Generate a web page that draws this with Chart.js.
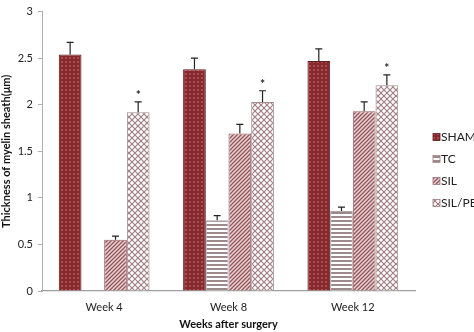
<!DOCTYPE html>
<html>
<head>
<meta charset="utf-8">
<script src="https://cdn.jsdelivr.net/npm/chart.js@4/dist/chart.umd.min.js"></script>
<style>
  html, body { margin: 0; padding: 0; background: #fff; }
  #wrap { width: 474px; height: 332px; position: relative; }
</style>
</head>
<body>
<div id="wrap"><canvas id="myChart"></canvas></div>
<script>
const weeks = ['Week 4', 'Week 8', 'Week 12'];
const yTicks = [0, 0.5, 1, 1.5, 2, 2.5, 3];

const sham = [2.54, 2.38, 2.47];
const tc = [null, 0.76, 0.86];
const sil = [0.55, 1.69, 1.93];
const silPeg = [1.92, 2.03, 2.21];

// upper end of each error bar
const shamErr = [2.67, 2.50, 2.60];
const tcErr = [null, 0.81, 0.90];
const silErr = [0.59, 1.79, 2.03];
const silPegErr = [2.03, 2.15, 2.32];

const legendNames = ['SHAM', 'TC', 'SIL', 'SIL/PEG'];

// small tiles used as bar fills
function makeTile(w, h, draw) {
  const c = document.createElement('canvas');
  c.width = w; c.height = h;
  draw(c.getContext('2d'), w, h);
  return c.getContext('2d').createPattern(c, 'repeat');
}

const shamFill = makeTile(4, 4, (g, w, h) => {
  g.fillStyle = '#862a2e'; g.fillRect(0, 0, w, h);
  g.fillStyle = '#a84e52'; g.fillRect(1, 1, 2, 2);
});
const tcFill = makeTile(4, 4, (g, w, h) => {
  g.fillStyle = '#ffffff'; g.fillRect(0, 0, w, h);
  g.fillStyle = '#9a8a8c'; g.fillRect(0, 0, w, 2);
});
const silFill = makeTile(4, 4, (g, w, h) => {
  g.fillStyle = '#e8d4d4'; g.fillRect(0, 0, w, h);
  g.strokeStyle = '#95545a'; g.lineWidth = 1.3;
  g.beginPath();
  g.moveTo(-1, 5); g.lineTo(5, -1);
  g.moveTo(-1, 1); g.lineTo(1, -1);
  g.moveTo(3, 5); g.lineTo(5, 3);
  g.stroke();
});
const silPegFill = makeTile(6, 6, (g, w, h) => {
  g.fillStyle = '#ffffff'; g.fillRect(0, 0, w, h);
  g.strokeStyle = '#a07e84'; g.lineWidth = 1.2;
  g.beginPath();
  g.moveTo(0, 0); g.lineTo(6, 6);
  g.moveTo(6, 0); g.lineTo(0, 6);
  g.stroke();
});

const fills = [shamFill, tcFill, silFill, silPegFill];
const errs = [shamErr, tcErr, silErr, silPegErr];

const errorBars = {
  id: 'errorBars',
  afterDatasetsDraw(chart) {
    const ctx = chart.ctx;
    const yScale = chart.scales.y;
    ctx.save();
    ctx.strokeStyle = '#222';
    ctx.lineWidth = 1.2;
    chart.data.datasets.forEach((ds, i) => {
      const meta = chart.getDatasetMeta(i);
      meta.data.forEach((bar, j) => {
        if (ds.data[j] == null) return;
        const top = yScale.getPixelForValue(errs[i][j]);
        ctx.beginPath();
        ctx.moveTo(bar.x, bar.y);
        ctx.lineTo(bar.x, top);
        ctx.moveTo(bar.x - 3.5, top);
        ctx.lineTo(bar.x + 3.5, top);
        ctx.stroke();
        if (i === 3) {
          ctx.fillStyle = '#222';
          ctx.font = 'bold 12px Lato';
          ctx.textAlign = 'center';
          ctx.textBaseline = 'middle';
          ctx.fillText('*', bar.x, top - 7);
        }
      });
    });
    ctx.restore();
  }
};

const sideLegend = {
  id: 'sideLegend',
  afterDraw(chart) {
    const ctx = chart.ctx;
    ctx.save();
    ctx.font = '12px Lato';
    ctx.textBaseline = 'middle';
    ctx.textAlign = 'left';
    legendNames.forEach((name, i) => {
      const y = 137 + i * 22;
      ctx.fillStyle = fills[i];
      ctx.fillRect(433, y - 3.5, 7, 7);
      ctx.strokeStyle = i === 0 ? '#5e1c1e' : '#9a7a7e';
      ctx.lineWidth = 0.8;
      ctx.strokeRect(433, y - 3.5, 7, 7);
      ctx.fillStyle = '#222';
      ctx.fillText(name, 441, y);
    });
    ctx.restore();
  }
};

const myChartObject = document.getElementById('myChart');

const cfg = {
  type: 'bar',
  data: {
    labels: weeks,
    datasets: [
      { label: 'SHAM', data: sham, backgroundColor: shamFill, borderColor: '#5e1c1e', borderWidth: 1 },
      { label: 'TC', data: tc, backgroundColor: tcFill, borderColor: '#b3a3a6', borderWidth: 1 },
      { label: 'SIL', data: sil, backgroundColor: silFill, borderColor: '#9a6066', borderWidth: 1 },
      { label: 'SIL/PEG', data: silPeg, backgroundColor: silPegFill, borderColor: '#a38a8e', borderWidth: 1 }
    ]
  },
  options: {
    responsive: true,
    maintainAspectRatio: false,
    animation: false,
    categoryPercentage: 0.73,
    barPercentage: 1,
    layout: { padding: { top: 0, right: 59, left: 0, bottom: 0 } },
    plugins: {
      legend: { display: false },
      tooltip: { enabled: false }
    },
    scales: {
      x: {
        grid: { display: false, drawTicks: false },
        border: { display: true, color: '#a0a0a0', width: 1.3 },
        ticks: { color: '#222', padding: 10, font: { family: 'Lato', size: 11 } },
        title: {
          display: true,
          text: 'Weeks after surgery',
          color: '#111',
          font: { family: 'Lato', size: 11, weight: 'bold' },
          padding: { top: 4, bottom: 1 }
        },
        afterFit(scale) { scale.height = 41; }
      },
      y: {
        min: 0,
        max: 3,
        afterBuildTicks(scale) { scale.ticks = yTicks.map(v => ({ value: v })); },
        grid: { display: true, drawOnChartArea: false, drawTicks: true, tickLength: 4, color: '#b0b0b0' },
        border: { display: true, color: '#b0b0b0', width: 1 },
        ticks: {
          color: '#222',
          padding: 5,
          font: { family: 'Lato', size: 11 },
          callback: v => String(v)
        },
        title: {
          display: true,
          text: 'Thickness of myelin sheath(μm)',
          color: '#111',
          font: { family: 'Lato', size: 11, weight: 'bold' },
          padding: { top: 0, bottom: 2 }
        },
        afterFit(scale) { scale.width = 42; }
      }
    }
  },
  plugins: [errorBars, sideLegend]
};

let chart = new Chart(myChartObject, cfg);
</script>
</body>
</html>
